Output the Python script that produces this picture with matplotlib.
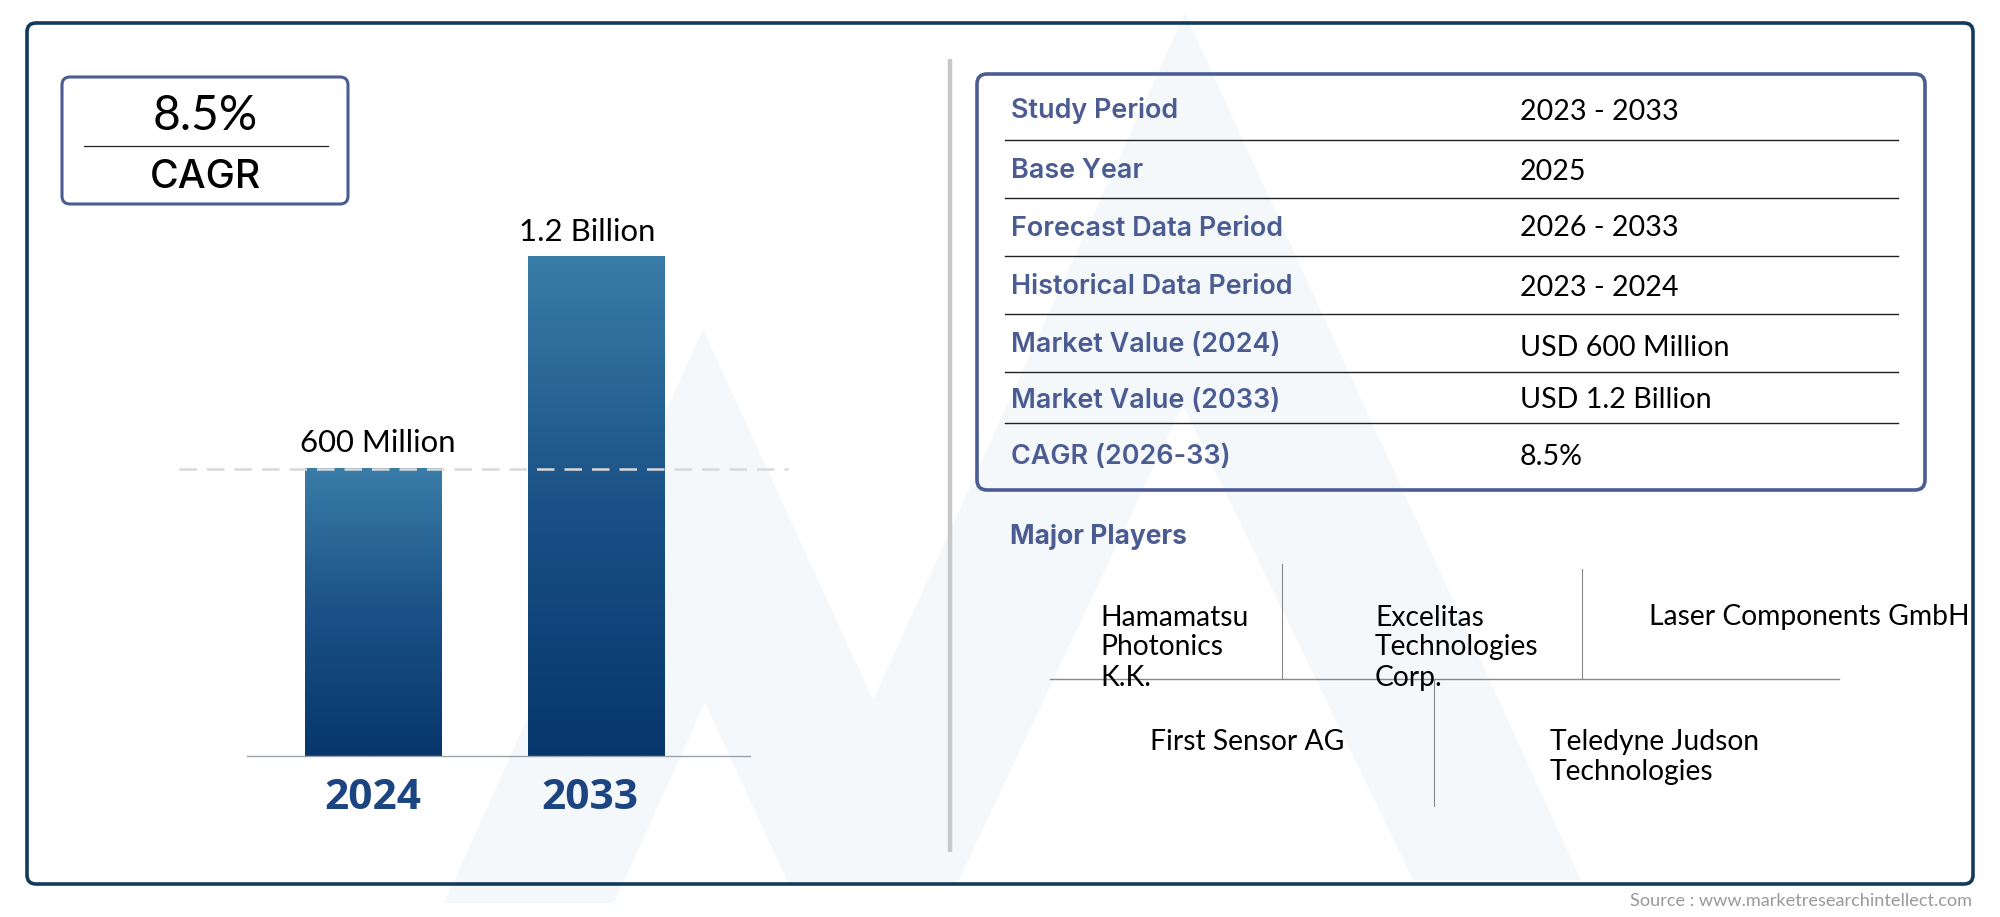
import numpy as np
import matplotlib
matplotlib.use("Agg")
import matplotlib.pyplot as plt
from matplotlib.patches import FancyBboxPatch, Polygon
from matplotlib.colors import LinearSegmentedColormap

# ---- chart values ----
years = ["2024", "2033"]
# Bar heights as drawn in the picture (the original is not to scale with its labels)
bar_heights = [600, 1045]
bar_labels = ["600 Million", "1.2 Billion"]
cagr_value = "8.5%"
cagr_label = "CAGR"
table_keys = ["Study Period", "Base Year", "Forecast Data Period", "Historical Data Period",
              "Market Value (2024)", "Market Value (2033)", "CAGR (2026-33)"]
table_values = ["2023 - 2033", "2025", "2026 - 2033", "2023 - 2024",
                "USD 600 Million", "USD 1.2 Billion", "8.5%"]
players_title = "Major Players"
source_text = "Source : www.marketresearchintellect.com"

W, H = 2000, 917
NAVY = "#123a5c"
SLATE = "#4a5c92"
WM = "#f5f8fb"
BODY_FONT = "Lato"
HEAD_FONT = "Inter"

fig = plt.figure(figsize=(20, 9.17), dpi=100, facecolor="white")
bg = fig.add_axes([0, 0, 1, 1])
bg.set_xlim(0, W)
bg.set_ylim(H, 0)
bg.axis("off")

# watermark
bg.add_patch(Polygon([(1185, 13), (1581, 880), (1413, 880), (1183, 405), (959, 880), (790, 883)],
                     closed=True, fc=WM, ec="none", zorder=0))
bg.add_patch(Polygon([(703, 329), (957, 883), (788, 883), (705, 703), (614, 903), (444, 903)],
                     closed=True, fc=WM, ec="none", zorder=0))

# outer frame
bg.add_patch(FancyBboxPatch((27, 23), 1946, 861, boxstyle="round,pad=0,rounding_size=9",
                            fc="none", ec=NAVY, lw=2.6, zorder=2))
bg.plot([950, 950], [59, 852], color="#c8c8c8", lw=3.2, zorder=2, solid_capstyle="butt")

# CAGR box
bg.add_patch(FancyBboxPatch((62, 77), 286, 127, boxstyle="round,pad=0,rounding_size=8",
                            fc="none", ec=SLATE, lw=2.2, zorder=2))
bg.plot([84, 328], [146, 146], color="#222222", lw=0.9, zorder=2)
bg.text(205, 115.5, cagr_value, ha="center", va="center", fontsize=34.5, family=BODY_FONT, color="black")
bg.text(205, 177, cagr_label, ha="center", va="center", fontsize=28.3, family=HEAD_FONT,
        weight="medium", color="black")

# table
bg.add_patch(FancyBboxPatch((977, 74), 948, 416, boxstyle="round,pad=0,rounding_size=10",
                            fc="none", ec=SLATE, lw=2.6, zorder=2))
for y in [140, 198, 256, 314, 372, 423]:
    bg.plot([1005, 1898], [y, y], color="#222222", lw=1.0, zorder=2)
key_y = [110.5, 170.5, 228.5, 286.5, 344.5, 400.5, 457.5]
val_y = [112, 172, 228, 288, 348, 400, 457]
for k, v, ky, vy in zip(table_keys, table_values, key_y, val_y):
    bg.text(1011, ky, k, ha="left", va="center", fontsize=19.4, family=HEAD_FONT, weight="semibold", color=SLATE)
    bg.text(1520, vy, v, ha="left", va="center", fontsize=20.6, family=BODY_FONT, color="black")

# major players
bg.text(1010, 537.5, players_title, ha="left", va="center", fontsize=19, family=HEAD_FONT, weight="bold", color=SLATE)
bg.plot([1050, 1839], [679, 679], color="#888888", lw=1.0, zorder=2)
bg.plot([1282, 1282], [564, 679], color="#888888", lw=0.8, zorder=2)
bg.plot([1582, 1582], [569, 679], color="#888888", lw=0.8, zorder=2)
bg.plot([1434, 1434], [679, 806], color="#888888", lw=0.8, zorder=2)
players = [("Hamamatsu", 1100, 618), ("Photonics", 1100, 647), ("K.K.", 1100, 678),
           ("Excelitas", 1375, 618), ("Technologies", 1375, 647), ("Corp.", 1375, 678),
           ("Laser Components GmbH", 1649, 617), ("First Sensor AG", 1150, 742),
           ("Teledyne Judson", 1550, 742), ("Technologies", 1550, 772)]
for t, x, y in players:
    bg.text(x, y, t, ha="left", va="center", fontsize=20.3, family=BODY_FONT, color="black", zorder=3)

bg.text(1972, 901, source_text, ha="right", va="center", fontsize=13.1, family=BODY_FONT, color="#999999")

# bars
ax = fig.add_axes([247 / W, 1 - 756 / H, (750 - 247) / W, 500 / H])
ax.patch.set_alpha(0)
xpos = np.arange(len(years))
bars = ax.bar(xpos, bar_heights, width=0.61, color="none")
cmap = LinearSegmentedColormap.from_list("barfill", ["#07366c", "#1a5186", "#3a7ca8"])
grad = np.linspace(1, 0, 256)[:, None]
for b in bars:
    x0, w, h = b.get_x(), b.get_width(), b.get_height()
    ax.imshow(grad, extent=(x0, x0 + w, 0, h), aspect="auto", cmap=cmap, vmin=0, vmax=1, zorder=2)
ax.set_xlim(-0.565, 1.69)
ax.set_ylim(0, max(bar_heights))
ax.hlines(bar_heights[0], -0.87, 1.86, colors="#d9d9d9", linestyles=(0, (7, 4)), lw=1.8, zorder=3, clip_on=False)
label_dx = [5, -9]
label_dy = [12, 10]
for x, h, t, dx, dy in zip(xpos, bar_heights, bar_labels, label_dx, label_dy):
    ax.annotate(t, (x, h), xytext=(dx, dy), textcoords="offset pixels", ha="center", va="bottom",
                fontsize=22.4, family=BODY_FONT, color="black", annotation_clip=False)
for s in ["top", "left", "right"]:
    ax.spines[s].set_visible(False)
ax.spines["bottom"].set_color("#9aa3ad")
ax.spines["bottom"].set_linewidth(1.0)
ax.set_yticks([])
ax.set_xticks([-0.002, 0.97])
ax.set_xticklabels(years, fontsize=30.5, family="Open Sans", weight="bold", color="#1c4480")
ax.tick_params(axis="x", length=0, pad=15.8)

fig.savefig("out.png", dpi=100, facecolor="white")
